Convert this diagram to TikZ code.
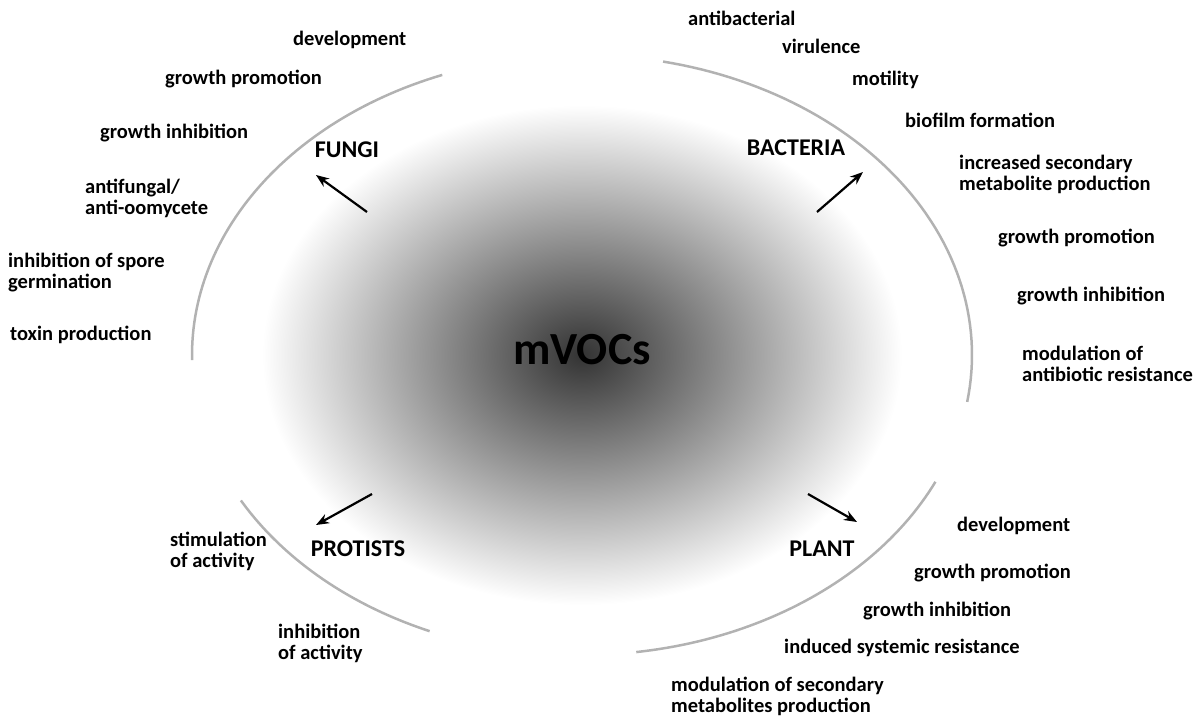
\documentclass[tikz,border=0pt]{standalone}
\usepackage{fontspec}
\usetikzlibrary{arrows.meta}
\setmainfont{Carlito}
\begin{document}
\begin{tikzpicture}[x=1pt,y=-1pt,
 lab/.style={font=\bfseries\fontsize{20.5}{21}\selectfont,anchor=west,align=left,inner sep=0pt},
 grp/.style={font=\bfseries\fontsize{24}{26}\selectfont,inner sep=0pt},
 arc/.style={draw=black!30,line width=2.5pt},
 arr/.style={-{Stealth[length=13pt,width=10pt]},line width=2.2pt}]
\useasboundingbox (0,0) rectangle (1200,718);
\shade[inner color=black!80,outer color=white] (582,355) ellipse [x radius=320,y radius=250];
\draw[arc] plot[domain=111:181,samples=60] ({582+390*cos(\x)},{355-300*sin(\x)});
\draw[arc] plot[domain=-9:78,samples=60] ({582+390*cos(\x)},{355-300*sin(\x)});
\draw[arc] plot[domain=-151:-113,samples=40] ({582+390*cos(\x)},{355-300*sin(\x)});
\draw[arc] plot[domain=-82:-25,samples=50] ({582+390*cos(\x)},{355-300*sin(\x)});
\node (m) at (582,350) {\bfseries\fontsize{46}{50}\selectfont mVOCs};
\node[grp] (f) at (347,150) {FUNGI};
\node[grp] (b) at (796,148) {BACTERIA};
\node[grp] (p) at (358,549) {PROTISTS};
\node[grp] (pl) at (822,549) {PLANT};
\coordinate (fa) at (367,212); \coordinate (fb) at (316,175);
\coordinate (ba) at (817,212); \coordinate (bb) at (863,172);
\coordinate (pa) at (372,494); \coordinate (pb) at (316,525);
\coordinate (la) at (808,494); \coordinate (lb) at (857,522);
\draw[arr] (fa)--(fb); \draw[arr] (ba)--(bb); \draw[arr] (pa)--(pb); \draw[arr] (la)--(lb);
% fungi
\node[lab] (f1) at (293,40) {development};
\node[lab] (f2) at (165,79) {growth promotion};
\node[lab] (f3) at (100,133) {growth inhibition};
\node[lab] (f4) at (85,198) {antifungal/\\anti-oomycete};
\node[lab] (f5) at (8,273) {inhibition of spore\\germination};
\node[lab] (f6) at (10,335) {toxin production};
% bacteria
\node[lab] (b1) at (688,18) {antibacterial};
\node[lab] (b2) at (782,46) {virulence};
\node[lab] (b3) at (852,80) {motility};
\node[lab] (b4) at (905,120) {biofilm formation};
\node[lab] (b5) at (959,174) {increased secondary\\metabolite production};
\node[lab] (b6) at (998,238) {growth promotion};
\node[lab] (b7) at (1017,296) {growth inhibition};
\node[lab] (b8) at (1022,364) {modulation of\\antibiotic resistance};
% plant
\node[lab] (l1) at (957,526) {development};
\node[lab] (l2) at (914,573) {growth promotion};
\node[lab] (l3) at (863,611) {growth inhibition};
\node[lab] (l4) at (784,648) {induced systemic resistance};
\node[lab] (l5) at (671,696) {modulation of secondary\\metabolites production};
% protists
\node[lab] (p1) at (170,551) {stimulation\\of activity};
\node[lab] (p2) at (278,643) {inhibition\\of activity};
\end{tikzpicture}
\end{document}
